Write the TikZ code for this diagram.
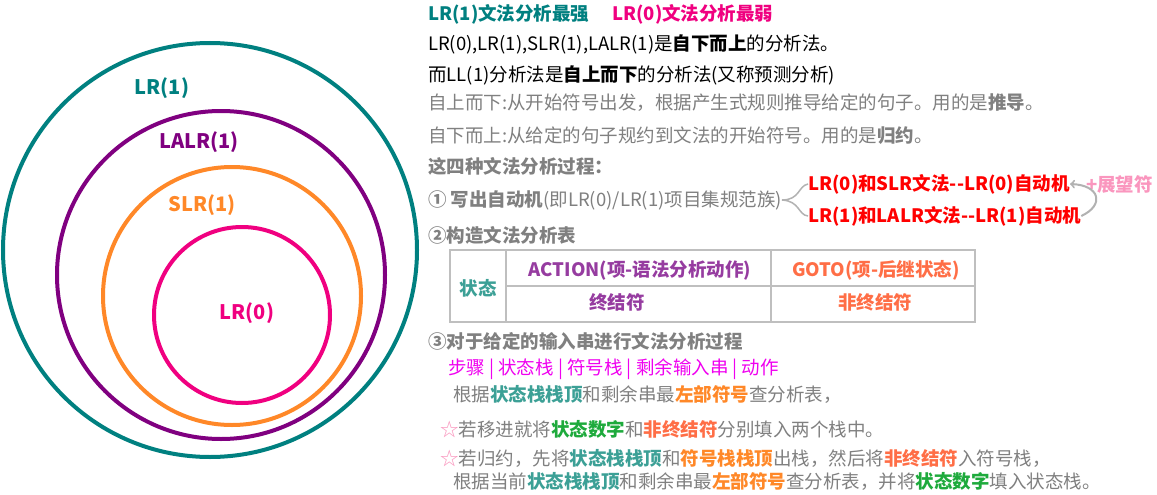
\documentclass[tikz,border=0pt]{standalone}
\usepackage{fontspec}
\setmainfont{Noto Sans CJK SC}
\begin{document}
\begin{tikzpicture}[x=1pt,y=-1pt,
  t/.style={anchor=west,inner sep=0pt,font=\fontsize{18.5}{20}\selectfont},
  lab/.style={inner sep=0pt,font=\fontsize{20}{22}\selectfont\bfseries},
  ring/.style={line width=4pt}]
\definecolor{cteal}{RGB}{0,128,128}
\definecolor{ctl}{RGB}{60,160,150}
\definecolor{cpur}{RGB}{128,0,128}
\definecolor{cpur2}{RGB}{150,60,160}
\definecolor{corg}{RGB}{255,136,40}
\definecolor{corg2}{RGB}{255,110,70}
\definecolor{cmag}{RGB}{240,0,128}
\definecolor{cgr}{RGB}{128,128,128}
\definecolor{cgreen}{RGB}{30,170,60}
\definecolor{cpink}{RGB}{250,150,190}
\definecolor{cfu}{RGB}{240,0,240}
\useasboundingbox (0,0) rectangle (1157,495);
\fill[white] (0,0) rectangle (1157,495);
% circles
\draw[ring,cteal] (210,250) circle (207);
\draw[ring,cpur] (221,275) circle (164);
\draw[ring,corg] (232,296) circle (129);
\draw[ring,cmag] (242,315) circle (88);
\node[lab,cteal] (l1) at (162,88) {LR(1)};
\node[lab,cpur] (l2) at (199,142) {LALR(1)};
\node[lab,corg] (l3) at (202,205) {SLR(1)};
\node[lab,cmag] (l4) at (247,313) {LR(0)};
% text
\node[t,cteal] (a1) at (428,14) {\bfseries LR(1)文法分析最强};
\node[t,cmag] (a2) at (612,14) {\bfseries LR(0)文法分析最弱};
\node[t] (a3) at (428,44) {LR(0),LR(1),SLR(1),LALR(1)是\textbf{自下而上}的分析法。};
\node[t] (a4) at (428,75) {而LL(1)分析法是\textbf{自上而下}的分析法(又称预测分析)};
\node[t,cgr] (a5) at (428,103) {自上而下:从开始符号出发，根据产生式规则推导给定的句子。用的是\textbf{推导}。};
\node[t,cgr] (a6) at (428,136) {自下而上:从给定的句子规约到文法的开始符号。用的是\textbf{归约}。};
\node[t,cgr] (a7) at (428,166) {\bfseries 这四种文法分析过程：};
\node[t,cgr] (a8) at (428,200) {\textbf{① 写出自动机}(即LR(0)/LR(1)项目集规范族)};
\node[t,red] (r1) at (808,184) {\bfseries LR(0)和SLR文法-{}-LR(0)自动机};
\node[t,red] (r2) at (808,216) {\bfseries LR(1)和LALR文法-{}-LR(1)自动机};
\node[t,cpink] (pl) at (1086,184) {\bfseries +展望符};
\draw[black!30,line width=1.5pt] (r1.west) .. controls (798,186) and (800,200) .. (a8.east) .. controls (800,201) and (798,215) .. (r2.west);
\draw[black!30,line width=2pt,->] (r2.east) .. controls (1105,205) and (1100,185) .. (r1.east);
\node[t,cgr] (a9) at (428,235) {\bfseries ②构造文法分析表};
% table
\draw[black!25,line width=2.5pt] (450,250) rectangle (975,322);
\draw[black!25,line width=2.5pt] (506,250) -- (506,322) (771,250) -- (771,322) (506,286) -- (975,286);
\node[t,anchor=center,ctl] (s) at (478,288) {\bfseries 状态};
\node[t,anchor=center,cpur2] (ac) at (640,270) {\bfseries ACTION(项-语法分析动作)};
\node[t,anchor=center,corg2] (go) at (876,270) {\bfseries GOTO(项-后继状态)};
\node[t,anchor=center,cpur2] (z1) at (617,302) {\bfseries 终结符};
\node[t,anchor=center,corg2] (z2) at (875,302) {\bfseries 非终结符};
\node[t,cgr] (b1) at (428,341) {\bfseries ③对于给定的输入串进行文法分析过程};
\node[t,cfu] (b2) at (448,369) {步骤 | 状态栈 | 符号栈 | 剩余输入串 | 动作};
\node[t,cgr] (b3) at (453,394) {根据\textcolor{ctl}{\bfseries 状态栈栈顶}和剩余串最\textcolor{corg}{\bfseries 左部符号}查分析表，};
\node[t,cgr] (b4) at (440,429) {\textcolor{cpink}{☆}若移进就将\textcolor{cgreen}{\bfseries 状态数字}和\textcolor{corg2}{\bfseries 非终结符}分别填入两个栈中。};
\node[t,cgr] (b5) at (440,458) {\textcolor{cpink}{☆}若归约，先将\textcolor{ctl}{\bfseries 状态栈栈顶}和\textcolor{corg}{\bfseries 符号栈栈顶}出栈，然后将\textcolor{corg2}{\bfseries 非终结符}入符号栈，};
\node[t,cgr] (b6) at (453,481) {根据当前\textcolor{ctl}{\bfseries 状态栈栈顶}和剩余串最\textcolor{corg}{\bfseries 左部符号}查分析表，并将\textcolor{cgreen}{\bfseries 状态数字}填入状态栈。};
\end{tikzpicture}
\end{document}
